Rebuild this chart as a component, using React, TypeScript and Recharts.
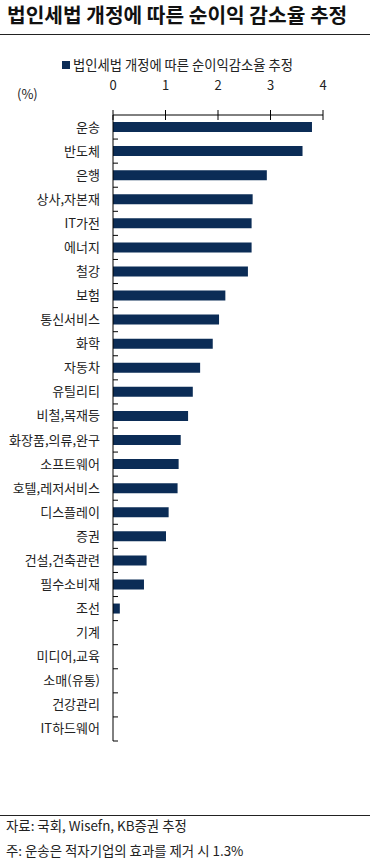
import React from "react";
import { BarChart, Bar, XAxis, YAxis } from "recharts";

const categories = [
  "운송", "반도체", "은행", "상사,자본재", "IT가전", "에너지", "철강", "보험", "통신서비스", "화학",
  "자동차", "유틸리티", "비철,목재등", "화장품,의류,완구", "소프트웨어", "호텔,레저서비스", "디스플레이", "증권",
  "건설,건축관련", "필수소비재", "조선", "기계", "미디어,교육", "소매(유통)", "건강관리", "IT하드웨어",
];
const values = [
  3.79, 3.61, 2.93, 2.66, 2.64, 2.64, 2.57, 2.14, 2.02, 1.9,
  1.66, 1.52, 1.43, 1.29, 1.25, 1.23, 1.06, 1.01,
  0.64, 0.59, 0.13, 0, 0, 0, 0, 0,
];
const xTicks = [0, 1, 2, 3, 4];
const title = "법인세법 개정에 따른 순이익 감소율 추정";
const seriesName = "법인세법 개정에 따른 순이익감소율 추정";
const unitLabel = "(%)";
const notes = ["자료: 국회, Wisefn, KB증권 추정", "주: 운송은 적자기업의 효과를 제거 시 1.3%"];

const data = categories.map((c, i) => ({ name: c, v: values[i] }));

const FONT = "'Noto Sans CJK KR', 'Noto Sans', sans-serif";
const NAVY = "#0b2c56";
const PLOT_TOP = 115;
const PLOT_BOTTOM = 741;
const BAND = (PLOT_BOTTOM - PLOT_TOP) / categories.length;

const XTick = (props: any) => {
  const { x, y, payload } = props;
  return (
    <g>
      <text x={x} y={y - 5} textAnchor="middle" fontSize={13} fill="#222" fontFamily={FONT}>
        {payload.value}
      </text>
      <line x1={x} x2={x} y1={y + 15} y2={y + 25} stroke="#000" strokeWidth={1} />
    </g>
  );
};

const YTick = (props: any) => {
  const { x, y, payload } = props;
  return (
    <g>
      <text x={x} y={y + 4.5} textAnchor="end" fontSize={13} fill="#222" fontFamily={FONT}>
        {payload.value}
      </text>
      <line x1={x + 13} x2={x + 18} y1={y + BAND / 2} y2={y + BAND / 2} stroke="#000" strokeWidth={1} />
    </g>
  );
};

export default function App() {
  return (
    <div style={{ position: "absolute", left: 0, top: 0, width: 373, height: 867, background: "#fff", fontFamily: FONT, color: "#222" }}>
      <div style={{ position: "absolute", left: 7, top: 1, width: 364, fontSize: 20.3, fontWeight: 700, whiteSpace: "nowrap", lineHeight: "26px", color: "#111" }}>
        {title}
      </div>
      <div style={{ position: "absolute", left: 0, top: 34, width: 370, height: 1, background: "#222" }} />
      <div style={{ position: "absolute", left: 62, top: 61, width: 8, height: 8, background: NAVY }} />
      <div style={{ position: "absolute", left: 73, top: 56, width: 290, fontSize: 13.3, lineHeight: "18px", whiteSpace: "nowrap" }}>
        {seriesName}
      </div>
      <div style={{ position: "absolute", left: 17, top: 85, fontSize: 13, lineHeight: "18px" }}>{unitLabel}</div>
      <div style={{ position: "absolute", left: 0, top: 0 }}>
        <BarChart
          width={373}
          height={745}
          data={data}
          layout="vertical"
          margin={{ top: 85, right: 50, bottom: 4, left: 0 }}
          barSize={10}
        >
          <XAxis
            type="number"
            orientation="top"
            domain={[0, 4]}
            ticks={xTicks}
            height={30}
            tickSize={0}
            tickMargin={20}
            tick={<XTick />}
            tickLine={false}
            axisLine={{ stroke: "#000", strokeWidth: 1 }}
          />
          <YAxis
            type="category"
            dataKey="name"
            width={113}
            tickSize={0}
            tickMargin={13}
            tick={<YTick />}
            tickLine={false}
            interval={0}
            axisLine={{ stroke: "#000", strokeWidth: 1 }}
          />
          <Bar dataKey="v" fill={NAVY} isAnimationActive={false} />
        </BarChart>
      </div>
      <div style={{ position: "absolute", left: 0, top: 815, width: 370, height: 1, background: "#222" }} />
      <div style={{ position: "absolute", left: 6, top: 816, width: 360, fontSize: 13.4, lineHeight: "18px", whiteSpace: "nowrap" }}>{notes[0]}</div>
      <div style={{ position: "absolute", left: 6, top: 841, width: 360, fontSize: 13.4, lineHeight: "18px", whiteSpace: "nowrap" }}>{notes[1]}</div>
    </div>
  );
}
